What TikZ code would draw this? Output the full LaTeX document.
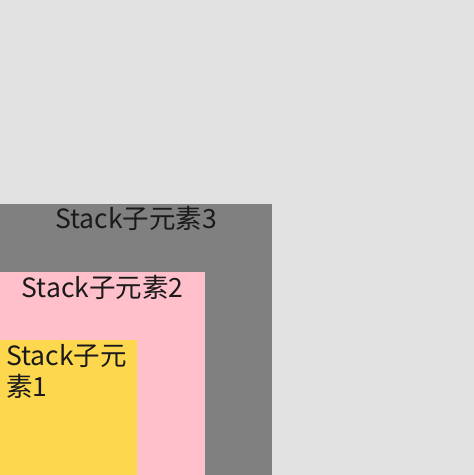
\documentclass[tikz,border=0pt]{standalone}
\usepackage{fontspec}
\setmainfont{Noto Sans CJK SC}
\definecolor{bgc}{HTML}{E1E1E1}
\definecolor{grayc}{HTML}{808080}
\definecolor{pinkc}{HTML}{FFC0CB}
\definecolor{yellowc}{HTML}{FDD84F}
\definecolor{txtc}{HTML}{1A1A1A}
\tikzset{lbl/.style={inner sep=0pt, text=txtc, font=\fontsize{26.5}{31}\selectfont}}
\begin{document}
\begin{tikzpicture}[x=1pt,y=-1pt]
\fill[bgc] (0,0) rectangle (474,475);
\useasboundingbox (0,0) rectangle (474,475);
\fill[grayc] (0,204) rectangle (272,475);
\fill[pinkc] (0,272) rectangle (205,475);
\fill[yellowc] (0,340) rectangle (137,475);
\node[lbl, anchor=base] (t3) at (136,228) {Stack子元素3};
\node[lbl, anchor=base] (t2) at (102.5,297) {Stack子元素2};
\node[lbl, anchor=base west, align=left] (t1) at (6,396) {Stack子元\\素1};
\end{tikzpicture}
\end{document}
